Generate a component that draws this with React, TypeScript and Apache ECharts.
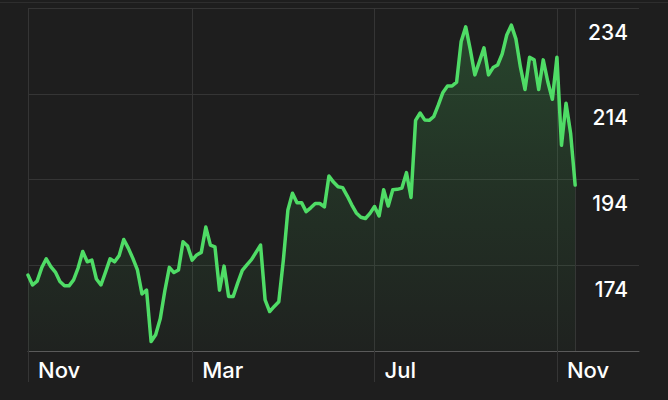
import React, { useEffect, useRef } from "react";
import * as echarts from "echarts";

// One slot per sampled session; slots past the last price leave the right margin empty.
const slotCount = 135;
const sessionSlots: string[] = Array.from({ length: slotCount }, (_, i) => `S${i}`);

// Closing prices (USD).
const prices: number[] = [
  171.7, 169.4, 170.3, 173.4, 175.5, 173.7, 172.4, 170.2, 169.2, 169.2,
  170.6, 173.4, 177.2, 174.8, 175.2, 170.8, 169.4, 172.4, 175.5, 174.8,
  176.3, 180.0, 178.0, 175.6, 172.9, 167.3, 168.2, 156.2, 157.8, 161.5,
  168.0, 173.5, 172.3, 172.9, 179.5, 178.5, 175.2, 176.4, 177.0, 182.9,
  178.7, 178.3, 168.2, 173.8, 166.7, 166.7, 169.9, 172.8, 174.1, 175.3,
  177.0, 178.7, 165.9, 163.2, 164.4, 165.5, 175.2, 186.9, 190.8, 188.6,
  188.6, 186.5, 187.4, 188.4, 188.4, 187.6, 194.8, 193.4, 192.3, 192.1,
  190.2, 188.1, 186.2, 185.2, 184.9, 186.1, 187.7, 185.5, 191.6, 187.8,
  191.6, 191.7, 192.0, 195.6, 189.8, 207.8, 209.5, 207.9, 207.8, 208.7,
  211.4, 214.3, 215.8, 215.8, 216.7, 226.2, 229.6, 224.3, 218.4, 221.5,
  224.7, 218.4, 220.1, 220.7, 223.3, 227.7, 230.0, 226.8, 220.2, 215.0,
  222.5, 221.9, 215.0, 221.9, 216.8, 212.7, 222.5, 202.0, 211.8, 204.8,
  192.7,
];

const monthLabels: string[] = ["Nov", "Mar", "Jul", "Nov"];
const monthSlots: number[] = [0, 36, 76, 116];

const yMin = 154;
const yMax = 234;
const yStep = 20;

const FONT = "Inter, 'Noto Sans', sans-serif";

export default function App() {
  const ref = useRef<HTMLDivElement>(null);

  useEffect(() => {
    if (!ref.current) return;
    const chart = echarts.init(ref.current, undefined, { renderer: "svg" });
    const lastIdx = prices.length - 1;
    const gridColor = "#353535";

    chart.setOption({
      animation: false,
      backgroundColor: "#1e1e1e",
      grid: { left: 28, right: 29, top: 8, bottom: 49, containLabel: false },
      graphic: [
        {
          type: "rect",
          shape: { x: 0, y: 2, width: 668, height: 1 },
          style: { fill: "#2e2e2e" },
          silent: true,
        },
      ],
      xAxis: {
        type: "category",
        data: sessionSlots,
        boundaryGap: false,
        axisLine: { show: true, lineStyle: { color: "#5a5a5a", width: 1 } },
        axisTick: {
          show: true,
          interval: (i: number) => monthSlots.includes(i),
          length: 31,
          inside: false,
          lineStyle: { color: gridColor, width: 1 },
        },
        axisLabel: {
          interval: (i: number) => monthSlots.includes(i),
          formatter: (_v: string, i: number) => {
            const k = monthSlots.indexOf(i);
            return k >= 0 ? monthLabels[k] : "";
          },
          align: "left",
          verticalAlign: "top",
          padding: [0, 0, 0, 10],
          margin: 8,
          color: "#ffffff",
          fontSize: 22,
          lineHeight: 22,
          fontFamily: FONT,
          fontWeight: 500,
        },
        splitLine: {
          show: true,
          interval: (i: number) => monthSlots.includes(i) || i === lastIdx,
          lineStyle: { color: gridColor, width: 1 },
        },
      },
      yAxis: {
        type: "value",
        position: "right",
        min: yMin,
        max: yMax,
        interval: yStep,
        axisLine: { show: false },
        axisTick: { show: false },
        splitLine: { show: true, lineStyle: { color: gridColor, width: 1 } },
        axisLabel: {
          inside: true,
          margin: 11,
          showMinLabel: false,
          verticalAlign: "top",
          padding: [14, 0, 0, 0],
          color: "#ffffff",
          fontSize: 21,
          lineHeight: 20,
          fontFamily: FONT,
          fontWeight: 500,
        },
      },
      series: [
        {
          type: "line",
          data: prices,
          showSymbol: false,
          symbol: "none",
          smooth: false,
          lineStyle: { color: "#4fdc66", width: 3.5, join: "round", cap: "round" },
          areaStyle: {
            color: new echarts.graphic.LinearGradient(0, 0, 0, 1, [
              { offset: 0, color: "rgba(76,217,100,0.30)" },
              { offset: 0.5, color: "rgba(76,217,100,0.15)" },
              { offset: 1, color: "rgba(76,217,100,0.03)" },
            ]),
          },
          z: 3,
        },
      ],
    });

    return () => chart.dispose();
  }, []);

  return (
    <div
      ref={ref}
      style={{ position: "fixed", left: 0, top: 0, width: 668, height: 400 }}
    />
  );
}
